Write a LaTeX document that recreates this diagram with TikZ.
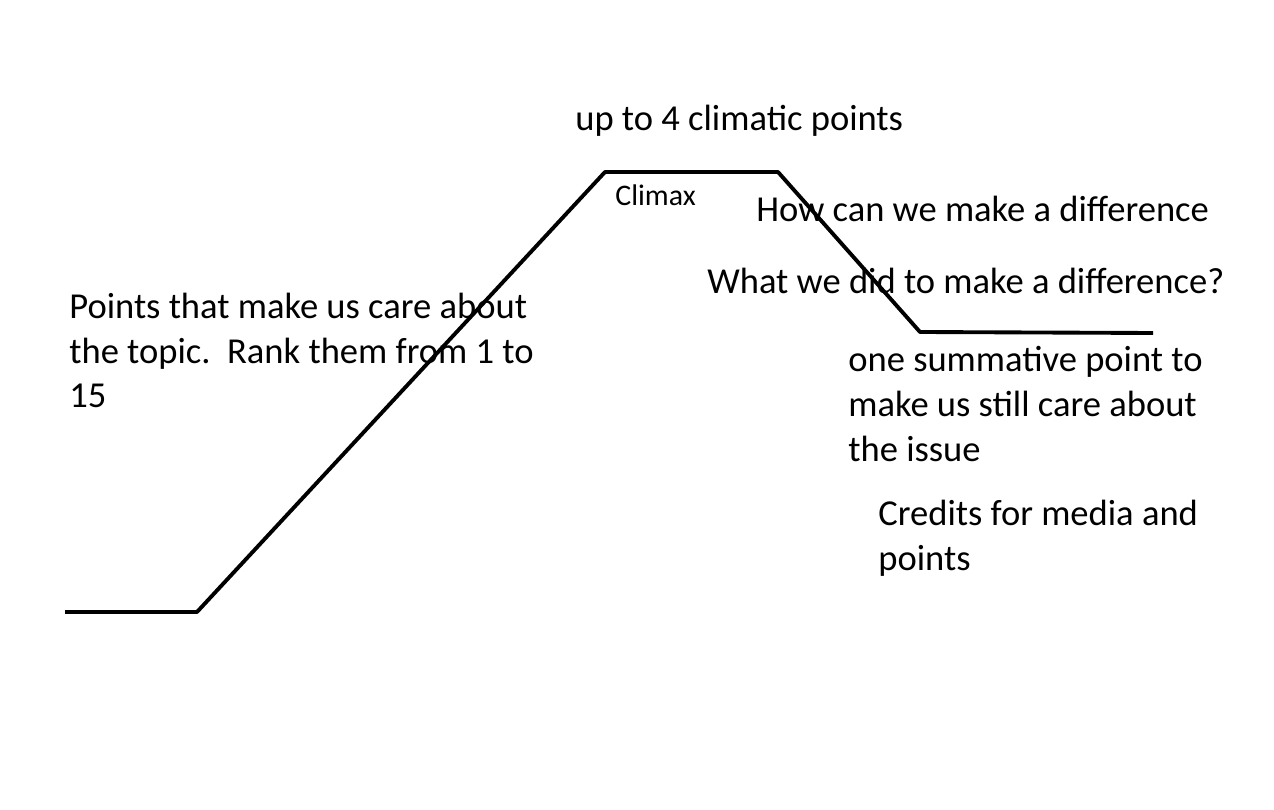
\documentclass[tikz,border=0pt]{standalone}
\usepackage{fontspec}
\setmainfont{Carlito}
\begin{document}
\begin{tikzpicture}[x=0.02cm,y=-0.02cm,
  lbl/.style={anchor=base west,inner sep=0pt,align=left,font=\fontsize{20.8pt}{25.5pt}\selectfont},
  small/.style={anchor=base west,inner sep=0pt,font=\fontsize{17pt}{20pt}\selectfont}]
\useasboundingbox[fill=white] (0,0) rectangle (1274,810);
\coordinate (p1) at (65,612);
\coordinate (p2) at (197,612);
\coordinate (p3) at (605,172);
\coordinate (p4) at (778,172);
\coordinate (p5) at (920,332);
\coordinate (p6) at (1153,333);
\draw[line width=2.2pt,line join=round] (p1) -- (p2) -- (p3) -- (p4) -- (p5) -- (p6);
\node[lbl] (t1) at (575,131) {up to 4 climatic points};
\node[small] (t2) at (615,206) {Climax};
\node[lbl] (t3) at (756,222) {How can we make a difference};
\node[lbl] (t4) at (707,294) {What we did to make a difference?};
\node[lbl] (t5) at (69,408) {Points that make us care about\\the topic.\ \ Rank them from 1 to\\15};
\node[lbl] (t6) at (848,461) {one summative point to\\make us still care about\\the issue};
\node[lbl] (t7) at (878,570) {Credits for media and\\points};
\end{tikzpicture}
\end{document}
